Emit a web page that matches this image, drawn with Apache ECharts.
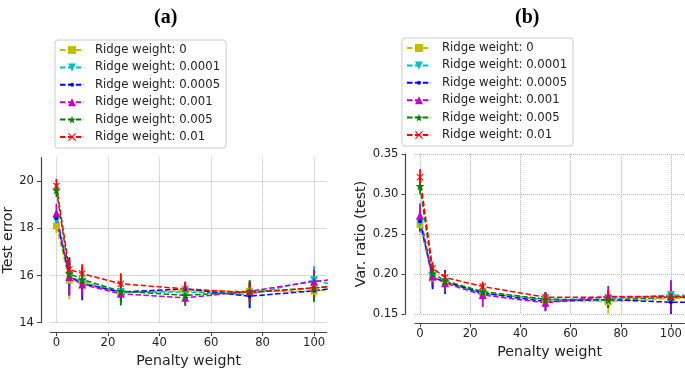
<!DOCTYPE html>
<html>
<head>
<meta charset="utf-8">
<script src="https://cdn.jsdelivr.net/npm/echarts@6/dist/echarts.min.js"></script>
<style>
  html, body { margin: 0; background: #fff; }
  #chart { width: 685px; height: 369px; }
</style>
</head>
<body>
<div id="chart"></div>
<script>
// --- data ---
const penalty = [0, 5, 10, 25, 50, 75, 100, 110]; // last point lies beyond the visible range
const ridgeNames = ['Ridge weight: 0', 'Ridge weight: 0.0001', 'Ridge weight: 0.0005',
                    'Ridge weight: 0.001', 'Ridge weight: 0.005', 'Ridge weight: 0.01'];

// (a) test error, mean per ridge weight
const testErr0      = [18.10, 15.80, 15.75, 15.28, 15.35, 15.33, 15.33, 15.45];
const testErr00001  = [18.35, 16.00, 15.70, 15.30, 15.30, 15.20, 15.80, 15.55];
const testErr00005  = [18.43, 15.97, 15.65, 15.30, 15.43, 15.12, 15.35, 15.50];
const testErr0001   = [18.64, 15.94, 15.62, 15.22, 15.05, 15.33, 15.75, 15.85];
const testErr0005   = [19.62, 16.08, 15.83, 15.33, 15.16, 15.30, 15.47, 15.57];
const testErr001    = [19.80, 16.25, 16.08, 15.65, 15.43, 15.27, 15.47, 15.57];
// (a) error bar half-heights
const testErrSd0     = [0.30, 0.80, 0.40, 0.40, 0.30, 0.40, 0.40];
const testErrSd00001 = [0.30, 0.50, 0.40, 0.40, 0.30, 0.60, 0.60];
const testErrSd00005 = [0.30, 0.80, 0.70, 0.40, 0.30, 0.50, 0.40];
const testErrSd0001  = [0.40, 0.80, 0.50, 0.40, 0.35, 0.40, 0.50];
const testErrSd0005  = [0.30, 0.50, 0.40, 0.60, 0.40, 0.50, 0.60];
const testErrSd001   = [0.30, 0.50, 0.40, 0.45, 0.30, 0.40, 0.40];

// (b) variance ratio on test, mean per ridge weight
const varRatio0     = [0.262, 0.195, 0.190, 0.176, 0.168, 0.1655, 0.1695, 0.170];
const varRatio00001 = [0.264, 0.196, 0.190, 0.176, 0.168, 0.1685, 0.1738, 0.173];
const varRatio00005 = [0.266, 0.196, 0.190, 0.176, 0.1655, 0.168, 0.1647, 0.1645];
const varRatio0001  = [0.273, 0.1968, 0.1885, 0.1738, 0.164, 0.172, 0.172, 0.171];
const varRatio0005  = [0.310, 0.201, 0.1914, 0.178, 0.1685, 0.1675, 0.171, 0.171];
const varRatio001   = [0.321, 0.2073, 0.1956, 0.1843, 0.171, 0.171, 0.172, 0.172];
// (b) error bar half-heights
const varRatioSd0     = [0.010, 0.012, 0.010, 0.008, 0.008, 0.015, 0.010];
const varRatioSd00001 = [0.012, 0.012, 0.010, 0.008, 0.008, 0.010, 0.019];
const varRatioSd00005 = [0.012, 0.015, 0.015, 0.008, 0.012, 0.010, 0.015];
const varRatioSd0001  = [0.015, 0.010, 0.010, 0.015, 0.010, 0.013, 0.020];
const varRatioSd0005  = [0.010, 0.010, 0.010, 0.008, 0.008, 0.010, 0.010];
const varRatioSd001   = [0.010, 0.008, 0.008, 0.006, 0.006, 0.008, 0.008];

const xTicks = [0, 20, 40, 60, 80, 100];
const yTicksA = [14, 16, 18, 20];
const yTicksB = [0.15, 0.20, 0.25, 0.30, 0.35];

const testErrMeans = [testErr0, testErr00001, testErr00005, testErr0001, testErr0005, testErr001];
const testErrSds = [testErrSd0, testErrSd00001, testErrSd00005, testErrSd0001, testErrSd0005, testErrSd001];
const varRatioMeans = [varRatio0, varRatio00001, varRatio00005, varRatio0001, varRatio0005, varRatio001];
const varRatioSds = [varRatioSd0, varRatioSd00001, varRatioSd00005, varRatioSd0001, varRatioSd0005, varRatioSd001];

// --- styling (matplotlib y / c / b / m / g / r) ---
const colors = ['#bfbf00', '#00bfbf', '#0000ff', '#bf00bf', '#008000', '#ff0000'];
const starPath = 'path://M50,0 L61,35 L98,35 L68,57 L79,91 L50,70 L21,91 L32,57 L2,35 L39,35 Z';
const crossPath = 'path://M0,1 L1,0 L5,4 L9,0 L10,1 L6,5 L10,9 L9,10 L5,6 L1,10 L0,9 L4,5 Z';
// small dot inside a larger empty box so the legend icon stays small too
const dotPath = 'path://M0,0 L0,0 Z M10,10 L10,10 Z M5,2.5 A2.5,2.5 0 1,1 5,7.5 A2.5,2.5 0 1,1 5,2.5 Z';
const markers = ['rect', 'triangle', dotPath, 'triangle', starPath, crossPath];
const markerSizes = [7, 8, 8, 8, 9, 7];
const markerRot = [0, 180, 0, 0, 0, 0];
const font = 'DejaVu Sans';
const txt = '#222';

const chart = echarts.init(document.getElementById('chart'));

function lineSeries(idx, k, values) {
    return {
        type: 'line', name: ridgeNames[k], xAxisIndex: idx, yAxisIndex: idx,
        data: penalty.map((x, i) => [x, values[i]]),
        symbol: markers[k], symbolSize: markerSizes[k], symbolRotate: markerRot[k],
        showAllSymbol: true, clip: true, silent: true, z: 3,
        itemStyle: { color: colors[k] },
        lineStyle: { color: colors[k], width: 1.5, type: [5.5, 2.4] }
    };
}

function errSeries(idx, k, values, sds) {
    return {
        type: 'custom', name: 'err' + idx + '_' + k, xAxisIndex: idx, yAxisIndex: idx,
        clip: true, silent: true, z: 2,
        data: sds.map((e, i) => [penalty[i], values[i] - e, values[i] + e]),
        encode: { x: 0, y: [1, 2] },
        renderItem: (params, api) => {
            const p0 = api.coord([api.value(0), api.value(1)]);
            const p1 = api.coord([api.value(0), api.value(2)]);
            return {
                type: 'line',
                shape: { x1: p0[0], y1: p0[1], x2: p1[0], y2: p1[1] },
                style: { stroke: colors[k], lineWidth: 1.8 }
            };
        }
    };
}

function xAxisCfg(idx, min, max, offset) {
    return {
        type: 'value', gridIndex: idx, min: min, max: max, offset: offset,
        name: 'Penalty weight', nameLocation: 'middle', nameGap: 22,
        nameTextStyle: { fontSize: 14.2, color: txt, fontFamily: font },
        axisLine: { show: true, onZero: false, lineStyle: { color: '#444', width: 1.2 } },
        axisTick: { show: true, length: 4, customValues: xTicks, lineStyle: { color: '#444' } },
        axisLabel: { customValues: xTicks, fontSize: 11.6, color: txt, fontFamily: font, margin: 5 },
        splitLine: { show: true, lineStyle: { type: 'dotted', color: '#b4b4b4', width: 1 } }
    };
}

function yAxisCfg(idx, min, max, ticks, name, gap, fmt) {
    return {
        type: 'value', gridIndex: idx, min: min, max: max, offset: 9.5,
        name: name, nameLocation: 'middle', nameGap: gap, nameRotate: 90,
        nameTextStyle: { fontSize: 14.2, color: txt, fontFamily: font },
        axisLine: { show: true, onZero: false, lineStyle: { color: '#444', width: 1.2 } },
        axisTick: { show: true, length: 4, customValues: ticks, lineStyle: { color: '#444' } },
        axisLabel: { customValues: ticks, fontSize: 11.6, color: txt, fontFamily: font, margin: 7, formatter: fmt },
        splitLine: { show: true, lineStyle: { type: 'dotted', color: '#b4b4b4', width: 1 } }
    };
}

function legendCfg(left, top) {
    return {
        data: ridgeNames, orient: 'vertical', left: left, top: top,
        itemWidth: 24, itemHeight: 10, itemGap: 5.4,
        padding: [4, 6, 5, 4],
        backgroundColor: 'rgba(255,255,255,0.85)',
        borderColor: '#cccccc', borderWidth: 1, borderRadius: 3,
        textStyle: { fontSize: 11.7, lineHeight: 12, color: txt, fontFamily: font, padding: [0, 0, 0, 6] },
        selectedMode: false
    };
}

const series = [];
for (let k = 0; k < 6; k++) {
    series.push(errSeries(0, k, testErrMeans[k], testErrSds[k]));
    series.push(errSeries(1, k, varRatioMeans[k], varRatioSds[k]));
}
for (let k = 0; k < 6; k++) {
    series.push(lineSeries(0, k, testErrMeans[k]));
    series.push(lineSeries(1, k, varRatioMeans[k]));
}

const option = {
    animation: false,
    title: [
        { text: '(a)', left: 149, top: 3, textStyle: { fontSize: 20, fontWeight: 'bold', fontFamily: 'Liberation Serif', color: '#000' } },
        { text: '(b)', left: 510, top: 3, textStyle: { fontSize: 20, fontWeight: 'bold', fontFamily: 'Liberation Serif', color: '#000' } }
    ],
    legend: [legendCfg(55, 40), legendCfg(402, 38)],
    grid: [
        { left: 48.3, right: 358.3, top: 157.7, bottom: 45.7 },
        { left: 415, right: 0, top: 154, bottom: 55 }
    ],
    xAxis: [xAxisCfg(0, -2.3, 104.9, 9.4), xAxisCfg(1, -2, 105.3, 9.3)],
    yAxis: [
        yAxisCfg(0, 14, 21, yTicksA, 'Test error', 26, v => String(v)),
        yAxisCfg(1, 0.15, 0.35, yTicksB, 'Var. ratio (test)', 37, v => v.toFixed(2))
    ],
    series: series
};
chart.setOption(option);
</script>
</body>
</html>
